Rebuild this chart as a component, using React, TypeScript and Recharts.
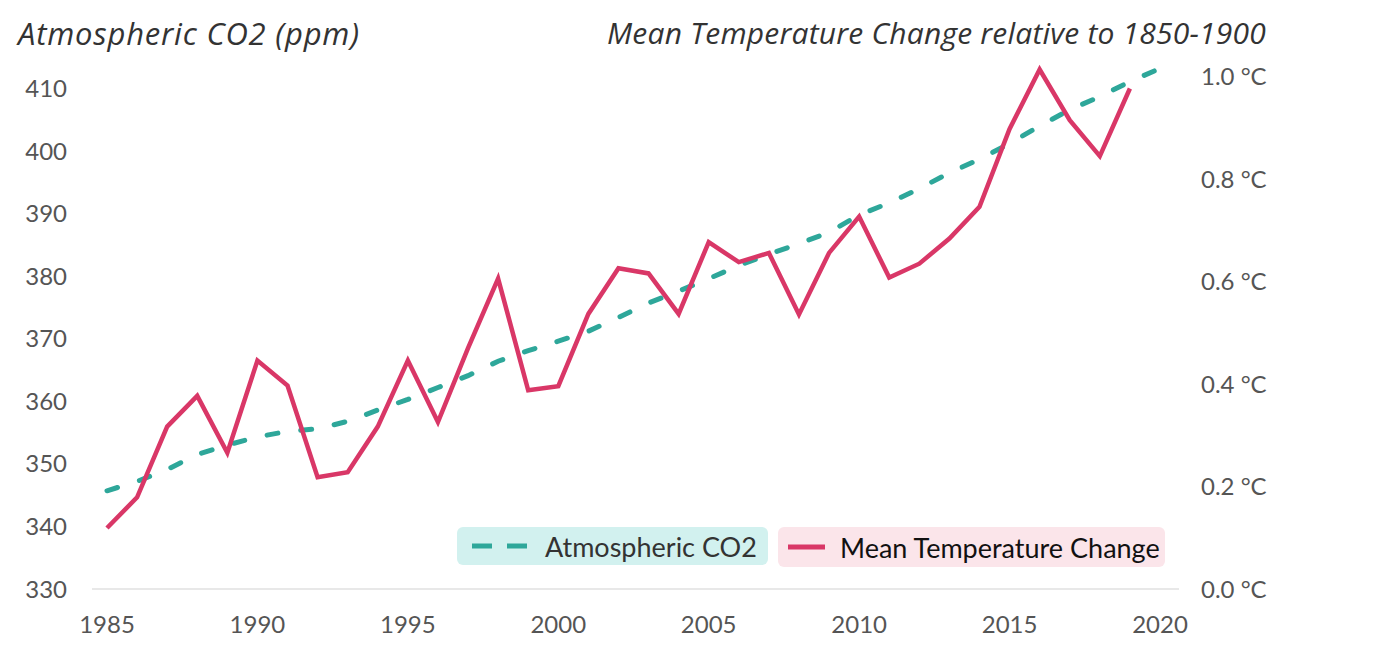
import React from "react";
import { Legend, Line, LineChart, XAxis, YAxis } from "recharts";

const years = [
  1985, 1986, 1987, 1988, 1989, 1990, 1991, 1992, 1993, 1994, 1995, 1996,
  1997, 1998, 1999, 2000, 2001, 2002, 2003, 2004, 2005, 2006, 2007, 2008,
  2009, 2010, 2011, 2012, 2013, 2014, 2015, 2016, 2017, 2018, 2019, 2020,
];

// annual mean CO2, ppm
const co2 = [
  345.7, 347.2, 349.1, 351.5, 353.0, 354.3, 355.2, 355.6, 356.8, 358.6, 360.3,
  362.2, 364.1, 366.4, 368.1, 369.6, 371.2, 373.4, 375.7, 377.6, 379.6, 381.7,
  383.5, 385.2, 387.0, 389.8, 391.7, 394.0, 396.5, 398.7, 401.2, 404.0, 406.6,
  408.7, 411.1, 413.2,
];

// °C above 1850-1900 mean (no value yet for 2020)
const tempChange = [
  0.119, 0.179, 0.317, 0.377, 0.266, 0.446, 0.397, 0.218, 0.228, 0.317, 0.446,
  0.326, 0.47, 0.606, 0.388, 0.396, 0.537, 0.626, 0.616, 0.537, 0.677, 0.638,
  0.656, 0.536, 0.656, 0.727, 0.608, 0.635, 0.684, 0.746, 0.898, 1.014, 0.915,
  0.845, 0.977,
];

const yearTicks = [1985, 1990, 1995, 2000, 2005, 2010, 2015, 2020];
const co2Ticks = [330, 340, 350, 360, 370, 380, 390, 400, 410];
const tempTicks = [0, 0.2, 0.4, 0.6, 0.8, 1.0];

const data = years.map((year, i) => ({
  year,
  co2: co2[i],
  temp: i < tempChange.length ? tempChange[i] : null,
}));

const TEAL = "#2ea79a";
const PINK = "#d93767";
const FONT = "Lato, 'Open Sans', sans-serif";
const TITLE_FONT = "'Open Sans', Lato, sans-serif";

const renderLegend = () => (
  <div style={{ display: "flex", gap: 10, fontFamily: FONT }}>
    <div
      style={{
        display: "flex",
        alignItems: "center",
        background: "#d2f1ef",
        borderRadius: 6,
        height: 38,
        width: 311,
        boxSizing: "border-box",
        paddingLeft: 15,
      }}
    >
      <svg width={55} height={10} style={{ display: "block" }}>
        <line
          x1={0}
          y1={5}
          x2={55}
          y2={5}
          stroke={TEAL}
          strokeWidth={5}
          strokeDasharray="20 15"
        />
      </svg>
      <span style={{ marginLeft: 18, fontSize: 27, color: "#333" }}>
        Atmospheric CO2
      </span>
    </div>
    <div
      style={{
        display: "flex",
        alignItems: "center",
        background: "#fbe5ea",
        borderRadius: 6,
        height: 40,
        width: 387,
        boxSizing: "border-box",
        paddingLeft: 10,
      }}
    >
      <svg width={37} height={10} style={{ display: "block" }}>
        <line x1={0} y1={5} x2={37} y2={5} stroke={PINK} strokeWidth={5} />
      </svg>
      <span style={{ marginLeft: 15, fontSize: 27, color: "#111" }}>
        Mean Temperature Change
      </span>
    </div>
  </div>
);

const titleStyle: React.CSSProperties = {
  position: "absolute",
  top: 13,
  fontStyle: "italic",
  color: "#333",
  lineHeight: "40px",
  fontFamily: TITLE_FONT,
  whiteSpace: "nowrap",
};

export default function App() {
  return (
    <div
      style={{
        position: "absolute",
        left: 0,
        top: 0,
        width: 1394,
        height: 655,
        background: "#fff",
        fontFamily: FONT,
      }}
    >
      <div style={{ ...titleStyle, left: 18, fontSize: 31, letterSpacing: 0.8 }}>
        Atmospheric CO2 (ppm)
      </div>
      <div
        style={{
          ...titleStyle,
          right: 1394 - 1266,
          fontSize: 30,
          letterSpacing: 0.2,
        }}
      >
        Mean Temperature Change relative to 1850-1900
      </div>
      <LineChart
        width={1394}
        height={655}
        data={data}
        margin={{ top: 60, right: 115, left: 0, bottom: 16 }}
      >
        <XAxis
          dataKey="year"
          type="number"
          domain={[1985, 2020]}
          ticks={yearTicks}
          padding={{ left: 15, right: 19 }}
          height={50}
          tickLine={false}
          tickSize={0}
          tickMargin={27}
          axisLine={{ stroke: "#e8e8e8", strokeWidth: 2 }}
          tick={{ fill: "#555", fontSize: 24, fontFamily: FONT }}
        />
        <YAxis
          yAxisId="left"
          orientation="left"
          width={92}
          domain={[330, 414.55]}
          ticks={co2Ticks}
          tickLine={false}
          tickSize={0}
          tickMargin={25}
          axisLine={false}
          tick={{ fill: "#555", fontSize: 24, fontFamily: FONT }}
        />
        <YAxis
          yAxisId="right"
          orientation="right"
          width={100}
          domain={[0, 1.0326]}
          ticks={tempTicks}
          tickLine={false}
          tickSize={0}
          tickMargin={22}
          axisLine={false}
          tickFormatter={(v: number) => `${v.toFixed(1)} °C`}
          tick={{ fill: "#555", fontSize: 24, fontFamily: FONT }}
        />
        <Legend
          layout="horizontal"
          verticalAlign="middle"
          align="center"
          content={renderLegend}
          wrapperStyle={{ left: 457, top: 527, width: "auto", bottom: "auto" }}
        />
        <Line
          yAxisId="left"
          type="linear"
          dataKey="co2"
          name="Atmospheric CO2"
          stroke={TEAL}
          strokeWidth={5}
          strokeDasharray="11 23"
          strokeLinecap="round"
          dot={false}
          activeDot={false}
          isAnimationActive={false}
        />
        <Line
          yAxisId="right"
          type="linear"
          dataKey="temp"
          name="Mean Temperature Change"
          stroke={PINK}
          strokeWidth={4.5}
          dot={false}
          activeDot={false}
          isAnimationActive={false}
        />
      </LineChart>
    </div>
  );
}
